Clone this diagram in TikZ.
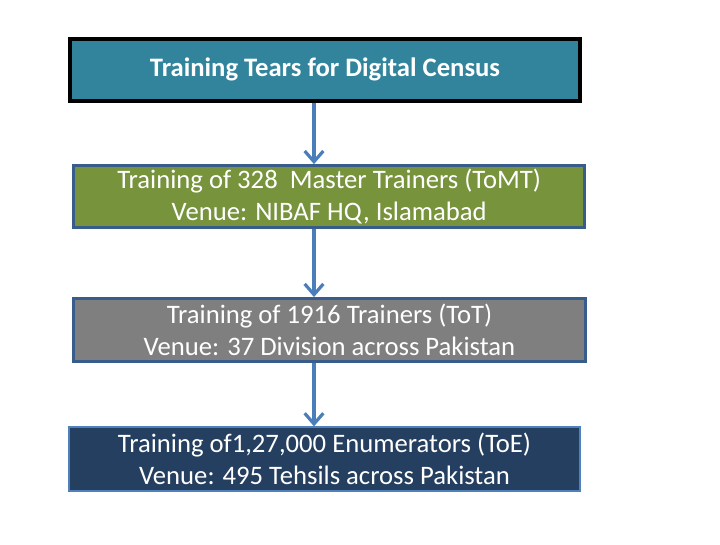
\documentclass[tikz,border=0pt]{standalone}
\usepackage{fontspec}
\setmainfont{Carlito}
\usetikzlibrary{arrows.meta}
\definecolor{tealbox}{HTML}{31849B}
\definecolor{greenbox}{HTML}{77933C}
\definecolor{graybox}{HTML}{7F7F7F}
\definecolor{navybox}{HTML}{253F60}
\definecolor{edgeblue}{HTML}{385D8A}
\definecolor{lightedge}{HTML}{4F81BD}
\definecolor{arrowblue}{HTML}{4A7EBB}
\tikzset{
  box/.style={rectangle, inner sep=0pt, align=center, text=white,
    font=\fontsize{20}{24}\selectfont},
  conn/.style={draw=arrowblue, line width=2.4pt,
    -{Straight Barb[length=8pt,width=14pt,line width=2.4pt]}}
}
\begin{document}
\begin{tikzpicture}[x=0.75pt,y=-0.75pt]
\useasboundingbox (0,0) rectangle (720,545);
\node[box, fill=tealbox, draw=black, line width=3pt,
  minimum width=510*0.75pt, minimum height=62*0.75pt,
  font=\fontsize{20}{24}\selectfont\bfseries] (t) at (325,69.7)
  {Training Tears for Digital Census};
\node[box, fill=greenbox, draw=edgeblue, line width=2.2pt,
  minimum width=510.7*0.75pt, minimum height=62.3*0.75pt] (g) at (329.2,196.7)
  {Training of 328\ \ Master Trainers (ToMT)\\Venue: NIBAF HQ, Islamabad};
\node[box, fill=graybox, draw=edgeblue, line width=2.2pt,
  minimum width=511.4*0.75pt, minimum height=63*0.75pt] (r) at (329.5,330)
  {Training of 1916 Trainers (ToT)\\Venue: 37 Division across Pakistan};
\node[box, fill=navybox, draw=lightedge, line width=1pt,
  minimum width=511*0.75pt, minimum height=64*0.75pt] (n) at (324.5,459)
  {Training of1,27,000 Enumerators (ToE)\\Venue: 495 Tehsils across Pakistan};
\coordinate (ax) at (314,0);
\draw[conn] (t.south -| ax) -- (g.north -| ax);
\draw[conn] (g.south -| ax) -- (r.north -| ax);
\draw[conn] (r.south -| ax) -- (n.north -| ax);
\end{tikzpicture}
\end{document}
